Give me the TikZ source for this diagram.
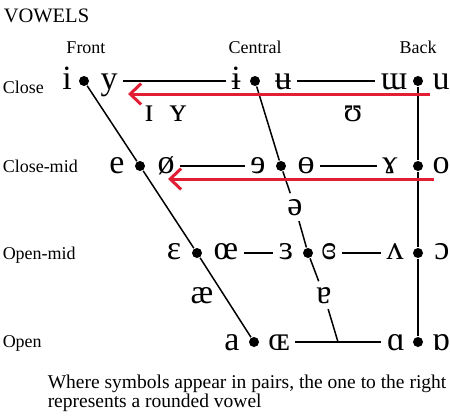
\documentclass[tikz,border=0pt]{standalone}
\usepackage{fontspec}
\setmainfont{Liberation Serif}
\usetikzlibrary{arrows.meta}
\definecolor{arrowred}{RGB}{226,30,52}
\tikzset{
  >=latex,
  dot/.style={circle,fill,inner sep=0pt,minimum size=10pt},
  ipa/.style={anchor=base,inner sep=5pt,font=\fontsize{34}{36}\selectfont},
  title/.style={anchor=base west,inner sep=0pt,font=\fontsize{20.5}{23}\selectfont},
  col/.style={anchor=base,inner sep=0pt,font=\fontsize{18}{20}\selectfont},
  row/.style={anchor=base west,inner sep=0pt,font=\fontsize{18}{20}\selectfont},
  note/.style={anchor=base west,inner sep=0pt,align=left,font=\fontsize{19.5}{15}\selectfont},
  redarrow/.style={draw=arrowred,line width=3pt,-{Straight Barb[length=11pt,width=21pt,line width=3pt]}}
}
\begin{document}
\begin{tikzpicture}[x=1pt,y=-1pt,line width=1.5pt]
\useasboundingbox (0,0) rectangle (450,416);
\node[title] (vowels) at (3,22) {VOWELS};
\node[col] (front) at (86,53) {Front};
\node[col] (central) at (255,53) {Central};
\node[col] (back) at (418,53) {Back};
\node[row] (close) at (2,93) {Close};
\node[row] (closemid) at (2,172) {Close-mid};
\node[row] (openmid) at (2,259) {Open-mid};
\node[row] (open) at (2,347) {Open};

\node[dot] (cf) at (84,81) {};
\node[dot] (cc) at (255,81) {};
\node[dot] (cb) at (418,81) {};
\node[dot] (cmf) at (140,166) {};
\node[dot] (cmc) at (281,166) {};
\node[dot] (cmb) at (418,166) {};
\node[dot] (omf) at (197,253) {};
\node[dot] (omc) at (308,253) {};
\node[dot] (omb) at (418,253) {};
\node[dot] (of) at (254,342) {};
\node[dot] (ob) at (418,342) {};
\coordinate (cj) at (338,342);

\node[ipa] (i) at (67,89) {i};
\node[ipa] (y) at (109,89) {y};
\node[ipa] (ibar) at (236,89) {ɨ};
\node[ipa] (ubar) at (283,89) {ʉ};
\node[ipa] (mu) at (394,89) {ɯ};
\node[ipa] (u) at (441,89) {u};
\node[ipa] (smi) at (149,121) {ɪ};
\node[ipa] (smy) at (178,121) {ʏ};
\node[ipa] (ups) at (353,121) {ʊ};
\node[ipa] (e) at (117,173) {e};
\node[ipa] (oslash) at (166,173) {ø};
\node[ipa] (reve) at (258,173) {ɘ};
\node[ipa] (obar) at (306,173) {ɵ};
\node[ipa] (gam) at (390,173) {ɤ};
\node[ipa] (o) at (441,173) {o};
\node[ipa] (schwa) at (295,215) {ə};
\node[ipa] (eps) at (174,259) {ɛ};
\node[ipa] (oe) at (226,259) {œ};
\node[ipa] (reps) at (286,259) {ɜ};
\node[ipa] (creps) at (329,259) {ɞ};
\node[ipa] (turnv) at (395,259) {ʌ};
\node[ipa] (openo) at (442,259) {ɔ};
\node[ipa] (ae) at (202,303) {æ};
\node[ipa] (turna) at (324,303) {ɐ};
\node[ipa] (a) at (232,350) {a};
\node[ipa] (scoe) at (279,350) {ɶ};
\node[ipa] (alpha) at (396,350) {ɑ};
\node[ipa] (turnalpha) at (441,350) {ɒ};

\draw (cf) -- (cmf) -- (omf) -- (of);
\draw (cc) -- (cmc) -- (schwa) -- (omc) -- (turna) -- (cj);
\draw (cb) -- (cmb) -- (omb) -- (ob);
\draw (y.east |- cf) -- (ibar.west |- cf);
\draw (ubar.east |- cc) -- (mu.west |- cc);
\draw (oslash.east |- cmf) -- (reve.west |- cmf);
\draw (obar.east |- cmc) -- (gam.west |- cmc);
\draw (oe.east |- omf) -- (reps.west |- omf);
\draw (creps.east |- omc) -- (turnv.west |- omc);
\draw (scoe.east |- of) -- (alpha.west |- of);

\coordinate (r1s) at (430,94);
\coordinate (r1e) at (128,94);
\coordinate (r2s) at (434,179);
\coordinate (r2e) at (168,179);
\draw[redarrow] (r1s) -- (r1e);
\draw[redarrow] (r2s) -- (r2e);

\node[note] (note) at (47,407) {Where symbols appear in pairs, the one to the right\\represents a rounded vowel};
\end{tikzpicture}
\end{document}
